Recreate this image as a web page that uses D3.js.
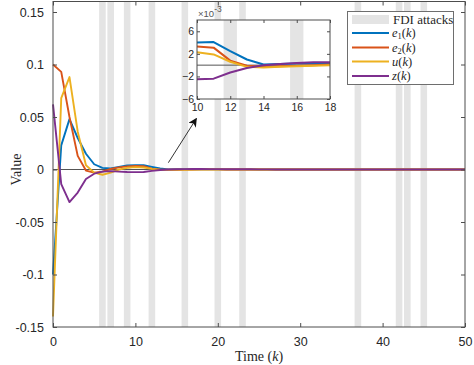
<!DOCTYPE html>
<html><head><meta charset="utf-8">
<script src="https://cdn.jsdelivr.net/npm/d3@7"></script>
<style>body{margin:0;background:#fff}svg{display:block}</style>
</head><body>
<svg id="c" width="474" height="365"></svg>
<script>
const ks = d3.range(0, 51);
const attacks = [6, 7, 9, 12, 16, 20, 23, 37, 42, 43, 45];
const e1 = [-0.100, 0.023, 0.048, 0.030, 0.015, 0.005, 0.0015, 0.0010, 0.0025, 0.0038,
  0.0040, 0.0041, 0.0025, 0.0010, 0.0001, 0.0002, 0.0003, 0.0003, 0.0003, 0.0002,
  0.0002, 0.0001, 0.0001, 0.0001, 0.0001, 0, 0, 0, 0, 0,
  0, 0, 0, 0, 0, 0, 0, 0, 0, 0,
  0, 0, 0, 0, 0, 0, 0, 0, 0, 0, 0];
const e2 = [0.100, 0.093, 0.050, 0.013, -0.001, -0.003, -0.002, 0.0005, 0.0020, 0.0030,
  0.0033, 0.0031, 0.0008, -0.0001, -0.0003, -0.0002, -0.0001, 0.0000, 0.0001, 0.0001,
  0.0001, 0, 0, 0, 0, 0, 0, 0, 0, 0,
  0, 0, 0, 0, 0, 0, 0, 0, 0, 0,
  0, 0, 0, 0, 0, 0, 0, 0, 0, 0, 0];
const u = [-0.140, 0.068, 0.088, 0.036, 0.004, -0.003, -0.005, -0.003, 0.0000, 0.0016,
  0.0023, 0.0019, 0.0006, -0.0003, -0.0004, -0.0003, -0.0002, -0.0001, 0.0000, 0,
  0, 0, 0, 0, 0, 0, 0, 0, 0, 0,
  0, 0, 0, 0, 0, 0, 0, 0, 0, 0,
  0, 0, 0, 0, 0, 0, 0, 0, 0, 0, 0];
const z = [0.062, -0.014, -0.031, -0.022, -0.009, -0.004, -0.002, -0.0015, -0.002, -0.0024,
  -0.0025, -0.0024, -0.0013, -0.0005, 0.0000, 0.0002, 0.0004, 0.0005, 0.0005, 0.0004,
  0.0004, 0.0003, 0.0003, 0.0002, 0.0002, 0.0001, 0.0001, 0, 0, 0,
  0, 0, 0, 0, 0, 0, 0, 0, 0, 0,
  0, 0, 0, 0, 0, 0, 0, 0, 0, 0, 0];
const xTicks = [0, 10, 20, 30, 40, 50];
const yTicks = [-0.15, -0.1, -0.05, 0, 0.05, 0.1, 0.15];
const yTickLabels = ["-0.15", "-0.1", "-0.05", "0", "0.05", "0.1", "0.15"];
const insetXTicks = [10, 12, 14, 16, 18];
const insetYTicks = [-6, -2, 2, 6];
const seriesNames = ["e1", "e2", "u", "z"];
const seriesData = [e1, e2, u, z];
const colors = ["#0072BD", "#D95319", "#EDB120", "#7E2F8E"];

const svg = d3.select("#c");
const x = d3.scaleLinear().domain([0, 50]).range([53, 465]);
const y = d3.scaleLinear().domain([-0.15, 0.16]).range([327, 1.5]);
const axisCol = "#4d4d4d", textCol = "#262626";
const sans = "'Liberation Sans', Arial, sans-serif";
const serif = "'Liberation Serif', 'Times New Roman', serif";

// attack bars
svg.append("g").selectAll("rect").data(attacks).join("rect")
  .attr("x", d => x(d - 0.4)).attr("width", d => x(d + 0.4) - x(d - 0.4))
  .attr("y", y(0.16)).attr("height", y(-0.15) - y(0.16))
  .attr("fill", "#e4e4e4");

// zero line
svg.append("line").attr("x1", x(0)).attr("x2", x(50)).attr("y1", y(0)).attr("y2", y(0))
  .attr("stroke", "#555").attr("stroke-width", 1);

// series
const line = d3.line().x((d, i) => x(ks[i])).y(d => y(d));
seriesData.forEach((s, i) => {
  svg.append("path").datum(s).attr("d", line).attr("fill", "none")
    .attr("stroke", colors[i]).attr("stroke-width", 1.9).attr("stroke-linejoin", "round");
});

// frame and ticks
svg.append("rect").attr("x", x(0)).attr("y", y(0.16)).attr("width", x(50) - x(0))
  .attr("height", y(-0.15) - y(0.16)).attr("fill", "none").attr("stroke", axisCol).attr("stroke-width", 1);
const gAx = svg.append("g");
gAx.attr("transform", `translate(0,${y(-0.15)})`).call(d3.axisBottom(x).tickValues(xTicks).tickSizeInner(-4).tickSizeOuter(0).tickPadding(10));
const gAxT = svg.append("g").attr("transform", `translate(0,${y(0.16)})`)
  .call(d3.axisTop(x).tickValues(xTicks).tickSizeInner(-4).tickSizeOuter(0).tickFormat(""));
const gAy = svg.append("g").attr("transform", `translate(${x(0)},0)`)
  .call(d3.axisLeft(y).tickValues(yTicks).tickSizeInner(-4).tickSizeOuter(0).tickPadding(9)
    .tickFormat((d, i) => yTickLabels[i]));
const gAyR = svg.append("g").attr("transform", `translate(${x(50)},0)`)
  .call(d3.axisRight(y).tickValues(yTicks).tickSizeInner(-4).tickSizeOuter(0).tickFormat(""));
[gAx, gAxT, gAy, gAyR].forEach(g => {
  g.select(".domain").remove();
  g.selectAll("line").attr("stroke", axisCol);
  g.selectAll("text").attr("font-family", sans).attr("font-size", 12.5).attr("fill", textCol);
});

// axis labels
const xl = svg.append("text").attr("x", 259).attr("y", 361).attr("text-anchor", "middle")
  .attr("font-family", serif).attr("font-size", 14).attr("fill", textCol);
xl.append("tspan").text("Time (");
xl.append("tspan").attr("font-style", "italic").text("k");
xl.append("tspan").text(")");
svg.append("text").attr("transform", `translate(21,${y(0)}) rotate(-90)`).attr("text-anchor", "middle")
  .attr("font-family", serif).attr("font-size", 14).attr("fill", textCol).text("Value");

// arrow
svg.append("defs").append("marker").attr("id", "ah").attr("viewBox", "0 0 10 10")
  .attr("refX", 9).attr("refY", 5).attr("markerWidth", 9).attr("markerHeight", 9)
  .attr("markerUnits", "userSpaceOnUse").attr("orient", "auto")
  .append("path").attr("d", "M0,0 L10,5 L0,10 L3,5 Z").attr("fill", "#111");
svg.append("line").attr("x1", x(14)).attr("y1", y(0.0065)).attr("x2", x(17.4)).attr("y2", y(0.0485))
  .attr("stroke", "#333").attr("stroke-width", 1).attr("marker-end", "url(#ah)");

// inset
const ix = d3.scaleLinear().domain([10, 18]).range([197, 330]);
const iy = d3.scaleLinear().domain([-6, 8]).range([99, 20]);
const inset = svg.append("g");
inset.append("rect").attr("x", ix(10)).attr("y", iy(8)).attr("width", ix(18) - ix(10))
  .attr("height", iy(-6) - iy(8)).attr("fill", "#fff");
inset.append("g").selectAll("rect").data(attacks.filter(a => a > 10 && a < 18)).join("rect")
  .attr("x", d => ix(d - 0.4)).attr("width", d => ix(d + 0.4) - ix(d - 0.4))
  .attr("y", iy(8)).attr("height", iy(-6) - iy(8)).attr("fill", "#e4e4e4");
inset.append("line").attr("x1", ix(10)).attr("x2", ix(18)).attr("y1", iy(0)).attr("y2", iy(0))
  .attr("stroke", "#555").attr("stroke-width", 1);
const iIdx = ks.filter(k => k >= 10 && k <= 18);
seriesData.forEach((s, i) => {
  const l = d3.line().x(k => ix(k)).y(k => iy(s[k] * 1000));
  inset.append("path").datum(iIdx).attr("d", l).attr("fill", "none")
    .attr("stroke", colors[i]).attr("stroke-width", 2).attr("stroke-linejoin", "round");
});
inset.append("rect").attr("x", ix(10)).attr("y", iy(8)).attr("width", ix(18) - ix(10))
  .attr("height", iy(-6) - iy(8)).attr("fill", "none").attr("stroke", axisCol);
const iax = inset.append("g").attr("transform", `translate(0,${iy(-6)})`)
  .call(d3.axisBottom(ix).tickValues(insetXTicks).tickSizeInner(-3).tickSizeOuter(0).tickPadding(5));
const iaxT = inset.append("g").attr("transform", `translate(0,${iy(8)})`)
  .call(d3.axisTop(ix).tickValues(insetXTicks).tickSizeInner(-3).tickSizeOuter(0).tickFormat(""));
const iay = inset.append("g").attr("transform", `translate(${ix(10)},0)`)
  .call(d3.axisLeft(iy).tickValues(insetYTicks).tickSizeInner(-3).tickSizeOuter(0).tickPadding(3));
const iayR = inset.append("g").attr("transform", `translate(${ix(18)},0)`)
  .call(d3.axisRight(iy).tickValues(insetYTicks).tickSizeInner(-3).tickSizeOuter(0).tickFormat(""));
[iax, iaxT, iay, iayR].forEach(g => {
  g.select(".domain").remove();
  g.selectAll("line").attr("stroke", axisCol);
  g.selectAll("text").attr("font-family", sans).attr("font-size", 10.5).attr("fill", textCol);
});
const exp = inset.append("text").attr("x", ix(10) + 1).attr("y", iy(8) - 3)
  .attr("font-family", sans).attr("font-size", 9.5).attr("fill", "#555");
exp.append("tspan").text("\u00d710");
exp.append("tspan").attr("dy", -5).attr("font-size", 8.5).text("-3");

// legend
const lg = svg.append("g");
lg.append("rect").attr("x", 347.5).attr("y", 11.5).attr("width", 106).attr("height", 73)
  .attr("fill", "#fff").attr("stroke", "#6e6e6e").attr("stroke-width", 1);
lg.append("rect").attr("x", 352).attr("y", 15).attr("width", 37).attr("height", 9).attr("fill", "#e4e4e4");
lg.append("text").attr("x", 393).attr("y", 23.5).attr("font-family", serif).attr("font-size", 13)
  .attr("fill", textCol).text("FDI attacks");
const labelParts = [
  [["e", "i"], ["1", "sub"], ["(", "n"], ["k", "i"], [")", "n"]],
  [["e", "i"], ["2", "sub"], ["(", "n"], ["k", "i"], [")", "n"]],
  [["u", "i"], ["(", "n"], ["k", "i"], [")", "n"]],
  [["z", "i"], ["(", "n"], ["k", "i"], [")", "n"]]
];
const legY = [33, 47.5, 61.5, 76];
seriesNames.forEach((n, i) => {
  lg.append("line").attr("x1", 352).attr("x2", 389).attr("y1", legY[i]).attr("y2", legY[i])
    .attr("stroke", colors[i]).attr("stroke-width", 2);
  const t = lg.append("text").attr("x", 392).attr("y", legY[i] + 4.3).attr("font-family", serif)
    .attr("font-size", 12.5).attr("fill", textCol);
  let shifted = false;
  labelParts[i].forEach(([s, sty]) => {
    const ts = t.append("tspan").text(s);
    if (sty === "i") ts.attr("font-style", "italic");
    if (sty === "sub") { ts.attr("font-size", 8.5).attr("dy", 2); shifted = true; }
    else if (shifted) { ts.attr("dy", -2); shifted = false; }
  });
});
</script>
</body></html>
